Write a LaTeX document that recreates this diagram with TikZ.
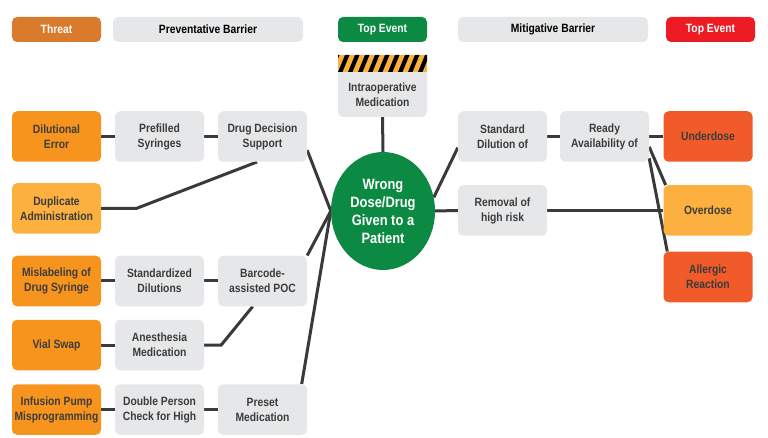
\documentclass[tikz,border=0pt]{standalone}
\usepackage{fontspec}
\setmainfont{Liberation Sans Bold}[FakeStretch=0.86]
\usetikzlibrary{backgrounds,shapes.geometric}
\definecolor{thr}{HTML}{D97A2C}
\definecolor{org}{HTML}{F7941D}
\definecolor{lorg}{HTML}{FBB040}
\definecolor{redorg}{HTML}{F15A29}
\definecolor{lgray}{HTML}{E6E7E8}
\definecolor{grn}{HTML}{0C8A43}
\definecolor{red}{HTML}{ED1C24}
\definecolor{txt}{HTML}{3C3C3C}
\definecolor{ln}{HTML}{3A3A3A}
\begin{document}
\begin{tikzpicture}[x={(1pt,0)},y={(0,-1pt)},
  box/.style={rounded corners=5pt, minimum width=89pt, minimum height=50.5pt, inner sep=0pt,
    align=center, font=\fontsize{12}{15}\selectfont, text=txt},
  gbox/.style={box, fill=lgray},
  hdr/.style={rounded corners=5pt, minimum height=25pt, inner sep=0pt,
    font=\fontsize{12}{15}\selectfont},
  conn/.style={draw=ln, line width=3pt}]
\useasboundingbox (0,0) rectangle (768,438);

% headers
\node[hdr, fill=thr, text=white, minimum width=89pt] (hthreat) at (56.5,29.5) {Threat};
\node[hdr, fill=lgray, text=black, minimum width=190pt] (hprev) at (208,29.5) {Preventative Barrier};
\node[hdr, fill=grn, text=white, minimum width=89pt] (htop) at (382.5,29.5) {Top Event};
\node[hdr, fill=lgray, text=black, minimum width=190pt] (hmit) at (553,29.5) {Mitigative Barrier};
\node[hdr, fill=red, text=white, minimum width=89pt] (hcons) at (710.5,29.5) {Top Event};

% hazard box
\fill[lgray] (338,72) -- (427,72) [rounded corners=5pt] -- (427,117) -- (338,117) [sharp corners] -- cycle;
\begin{scope}
\clip (338,55) rectangle (427,72);
\fill[lorg] (338,55) rectangle (427,72);
\foreach \t in {328,338,...,428} {
  \fill[black] (\t,72) -- (\t+4.5,72) -- (\t+11.5,55) -- (\t+7,55) -- cycle;
}
\end{scope}
\node[box, minimum height=45pt] (intra) at (382.5,94.5) {Intraoperative\\Medication};

% center
\node[ellipse, fill=grn, text=white, minimum width=104pt, minimum height=118pt, inner sep=0pt,
  align=center, font=\fontsize{15}{18}\selectfont] (top) at (383,211) {Wrong\\Dose/Drug\\Given to a\\Patient};

% left threats
\node[box, fill=org] (dil) at (56.5,136.5) {Dilutional\\Error};
\node[box, fill=lorg] (dup) at (56.5,208.5) {Duplicate\\Administration};
\node[box, fill=org] (mis) at (56.5,281) {Mislabeling of\\Drug Syringe};
\node[box, fill=org] (vial) at (56.5,345) {Vial Swap};
\node[box, fill=org] (inf) at (56.5,409.5) {Infusion Pump\\Misprogramming};

% left barriers
\node[gbox] (pre) at (159.5,136.5) {Prefilled\\Syringes};
\node[gbox] (dds) at (262.5,136.5) {Drug Decision\\Support};
\node[gbox] (std1) at (159.5,281) {Standardized\\Dilutions};
\node[gbox] (bar) at (262.5,281) {Barcode-\\assisted POC};
\node[gbox] (anes) at (159.5,345) {Anesthesia\\Medication};
\node[gbox] (dbl) at (159.5,409.5) {Double Person\\Check for High};
\node[gbox] (pset) at (262.5,409.5) {Preset\\Medication};

% right barriers
\node[gbox] (sdil) at (502.5,136.5) {Standard\\Dilution of};
\node[gbox] (ready) at (604.5,136.5) {Ready\\Availability of};
\node[gbox] (rem) at (502.5,210.5) {Removal of\\high risk};

% consequences
\node[box, fill=redorg] (under) at (708,136.5) {Underdose};
\node[box, fill=lorg] (over) at (708,210.5) {Overdose};
\node[box, fill=redorg] (allerg) at (708,277) {Allergic\\Reaction};

\begin{scope}[on background layer]
\draw[conn] (intra.south) -- (top.north);
\draw[conn] (dil.east) -- (pre.west);
\draw[conn] (pre.east) -- (dds.west);
\draw[conn] (dup.east) -- ++(35,0) -- (dds.-102);
\draw[conn] (mis.east) -- (std1.west);
\draw[conn] (std1.east) -- (bar.west);
\draw[conn] (vial.east) -- (anes.west);
\draw[conn] (anes.east) -- ++(17,0) -- (bar.-111);
\draw[conn] (inf.east) -- (dbl.west);
\draw[conn] (dbl.east) -- (pset.west);
\draw[conn] (dds.-17) -- (top.west);
\draw[conn] (bar.north east) -- (top.west);
\draw[conn] (pset.33) -- (top.west);
\draw[conn] (top.15) -- (sdil.194);
\draw[conn] (top.east) -- (rem.west);
\draw[conn] (rem.east) -- (over.west);
\draw[conn] (sdil.east) -- (ready.west);
\draw[conn] (ready.east) -- (under.west);
\draw[conn] (ready.-13) -- (over.149);
\draw[conn] (ready.-26) -- (allerg.148);
\end{scope}
\end{tikzpicture}
\end{document}
